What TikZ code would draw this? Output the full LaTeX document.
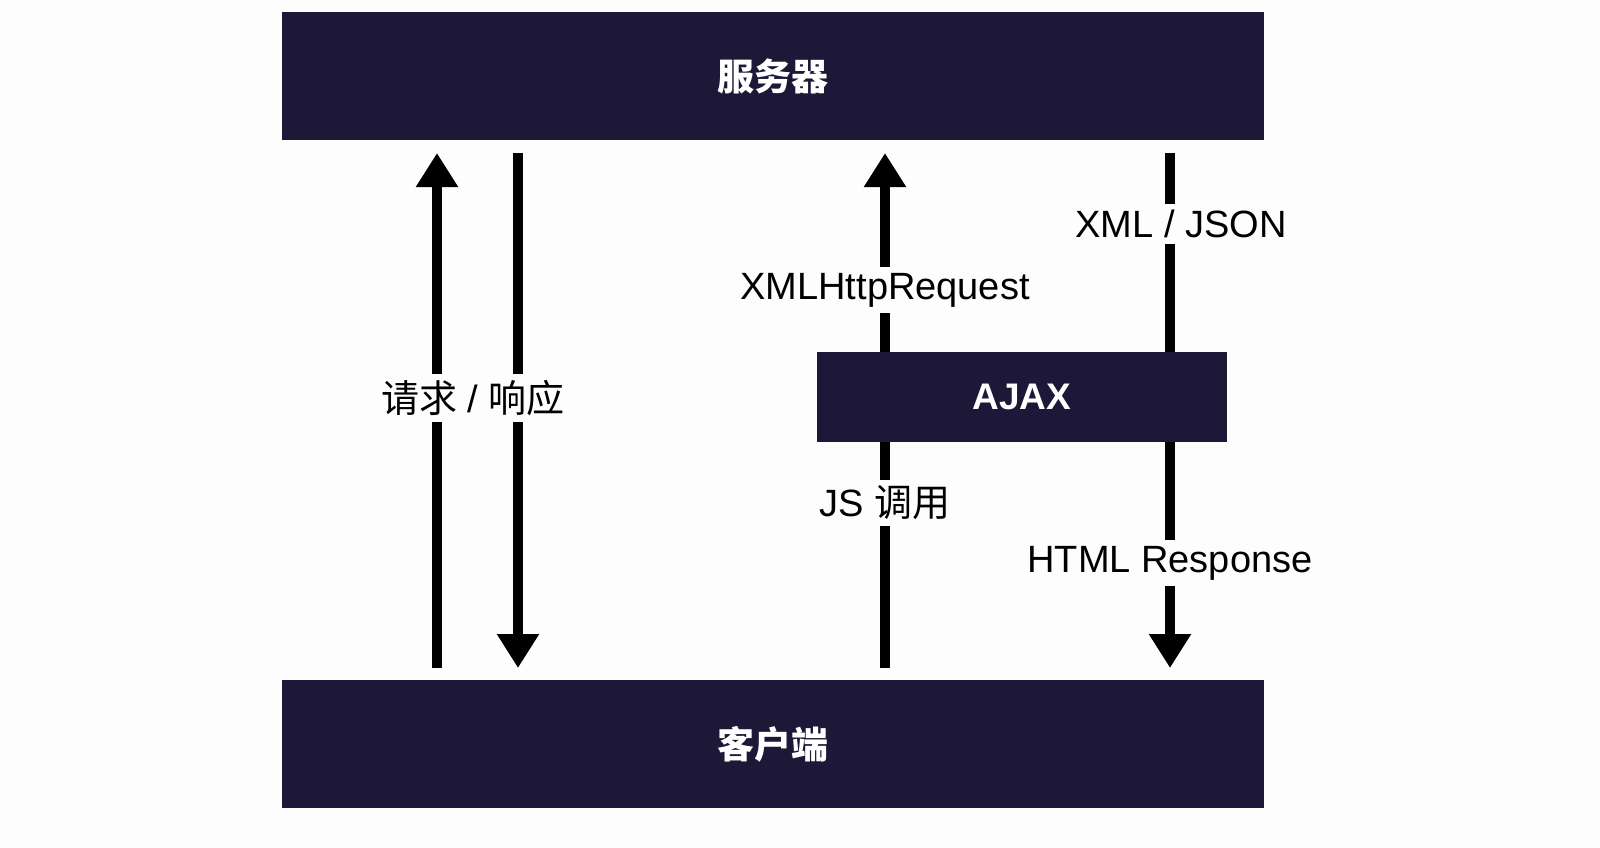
\documentclass[tikz,border=0pt]{standalone}
\usepackage{fontspec}
\setmainfont{Liberation Sans}
\newfontfamily\cjk{Noto Sans CJK SC}
\usetikzlibrary{arrows.meta}
\definecolor{boxnavy}{HTML}{1E1838}
\definecolor{paper}{HTML}{FDFDFD}
\begin{document}
\begin{tikzpicture}[x=0.5pt,y=-0.5pt,
    box/.style={fill=boxnavy,text=white,font=\bfseries\fontsize{18.5}{22}\selectfont,inner sep=0pt},
    lbl/.style={fill=paper,font=\fontsize{19}{23}\selectfont,inner sep=3pt},
    pipe/.style={line width=5pt},
    tip/.style={pipe,-{Triangle[length=17pt,width=20pt]}}]
    \fill[paper] (0,0) rectangle (1600,847);
    \useasboundingbox (0,0) rectangle (1600,847);

    % Kaesten
    \node[box,minimum width=491pt,minimum height=64pt] (server) at (773,76) {{\cjk\bfseries 服务器}};
    \node[box,minimum width=491pt,minimum height=64pt] (client) at (773,744) {{\cjk\bfseries 客户端}};

    % Endpunkte
    \coordinate (lu) at (437,668); \coordinate (lo) at (437,153);
    \coordinate (ro) at (518,153); \coordinate (ru) at (518,668);
    \coordinate (mo) at (885,153); \coordinate (mu) at (885,668);
    \coordinate (xo) at (1170,153); \coordinate (xu) at (1170,668);

    % Relationen
    \draw[tip] (lu) -- (lo);
    \draw[tip] (ro) -- (ru);
    \draw[tip] (885,352) -- (mo);
    \draw[pipe] (mu) -- (885,442);
    \draw[pipe] (xo) -- (1170,352);
    \draw[tip] (1170,442) -- (xu);

    \node[box,minimum width=205pt,minimum height=45pt] (ajax) at (1022,397) {AJAX};

    % Beschriftungen
    \node[lbl] (req) at (473,398) {{\cjk 请求} / {\cjk 响应}};
    \node[lbl] (xhr) at (885,290) {XMLHttpRequest};
    \node[lbl] (js) at (885,503) {JS {\cjk 调用}};
    \node[lbl] (xml) at (1181,224) {XML / JSON};
    \node[lbl] (html) at (1170,563) {HTML Response};
\end{tikzpicture}
\end{document}
